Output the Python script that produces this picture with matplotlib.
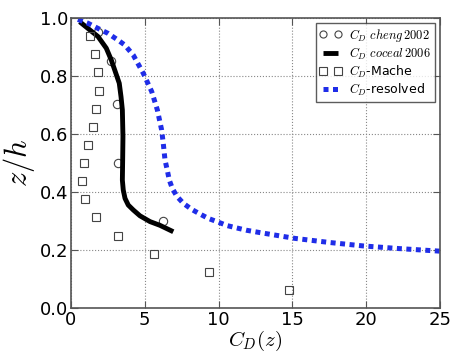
import numpy as np
import matplotlib
matplotlib.use('Agg')
from matplotlib import pyplot as plt

plt.rcParams['mathtext.fontset'] = 'cm'

# C_D cheng 2002 (open circles)
cheng_cd = [1.8, 2.7, 3.15, 3.2, 6.2]
cheng_z = [0.953, 0.852, 0.702, 0.5, 0.3]

# C_D coceal 2006 (thick black line)
coceal_cd = [0.59, 1.15, 1.83, 2.39, 2.73, 2.96, 3.27, 3.39, 3.48, 3.52, 3.50, 3.48, 3.54,
             3.66, 3.88, 4.22, 4.67, 5.35, 6.03, 6.93]
coceal_z = [0.987, 0.964, 0.936, 0.896, 0.855, 0.821, 0.775, 0.728, 0.683, 0.591, 0.51, 0.441,
            0.407, 0.378, 0.355, 0.338, 0.318, 0.298, 0.285, 0.263]

# C_D-Mache (open squares)
mache_cd = [1.29, 1.61, 1.83, 1.9, 1.71, 1.47, 1.17, 0.86, 0.75, 0.95, 1.67, 3.16, 5.6, 9.37, 14.75]
mache_z = [0.9375, 0.875, 0.8125, 0.75, 0.6875, 0.625, 0.5625, 0.5, 0.4375, 0.375, 0.3125, 0.25,
           0.1875, 0.125, 0.0625]

# C_D-resolved (blue dotted)
res_cd = [0.47, 1.15, 1.83, 2.51, 3.18, 3.64, 4.22, 4.9, 5.47, 5.85, 6.14, 6.25, 6.37, 6.52, 6.66,
          6.86, 7.16, 7.61, 8.18, 8.74, 9.3, 9.98, 10.59, 11.23, 11.9, 12.8, 15.18, 17.5, 19.8,
          22.2, 25.0]
res_z = [0.995, 0.982, 0.964, 0.947, 0.924, 0.907, 0.872, 0.809, 0.746, 0.683, 0.614, 0.568, 0.51,
         0.476, 0.441, 0.413, 0.386, 0.361, 0.34, 0.324, 0.309, 0.296, 0.284, 0.276, 0.268, 0.26,
         0.24, 0.226, 0.214, 0.205, 0.196]

fig = plt.figure(figsize=(4.74, 3.55), dpi=100)
ax = fig.add_axes([71/474, 1-308/355, 369/474, 290/355])

edge = '#555555'
ax.plot(cheng_cd, cheng_z, 'o', mfc='none', mec='#444444', ms=6, mew=0.8,
        label=r'$C_D\ cheng\,2002$')
ax.plot(coceal_cd, coceal_z, '-', color='black', lw=3.5, solid_capstyle='butt',
        label=r'$C_D\ coceal\,2006$')
ax.plot(mache_cd, mache_z, 's', mfc='none', mec='#444444', ms=6, mew=0.8,
        label=r'$C_D$-Mache')
ax.plot(res_cd, res_z, color='#1f2de8', lw=3.6, dashes=(1.0, 0.9),
        label=r'$C_D$-resolved')

ax.set_xlim(0, 25)
ax.set_ylim(0, 1.0)
ax.set_xticks([0, 5, 10, 15, 20, 25])
ax.set_yticks([0.0, 0.2, 0.4, 0.6, 0.8, 1.0])
ax.set_yticklabels(['0.0', '0.2', '0.4', '0.6', '0.8', '1.0'])
ax.grid(True, color='#888888', linestyle=':', linewidth=0.8)
ax.tick_params(direction='in', top=True, right=True, labelsize=13, length=5,
               color=edge, pad=2)
for s in ax.spines.values():
    s.set_color(edge)
    s.set_linewidth(1.2)

ax.set_xlabel(r'$C_D(z)$', fontsize=15, labelpad=0)
ax.set_ylabel(r'$z/h$', fontsize=22, labelpad=2)

leg = ax.legend(loc='upper right', numpoints=2, fontsize=9, fancybox=False,
                handlelength=1.8, handletextpad=0.6, borderaxespad=0.4,
                labelspacing=0.15, borderpad=0.3, markerscale=0.85)
leg.get_frame().set_edgecolor('#333333')
leg.get_frame().set_linewidth(1.0)

fig.savefig('out.png', dpi=100)
